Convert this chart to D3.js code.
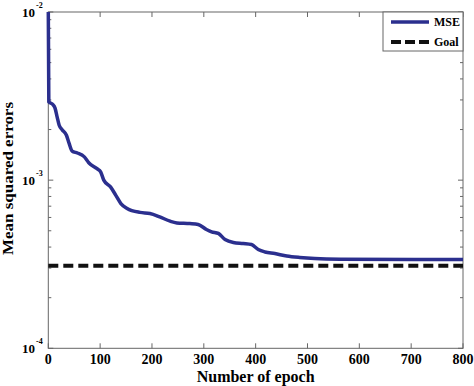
<!DOCTYPE html>
<html><head><meta charset="utf-8">
<script src="https://cdn.jsdelivr.net/npm/d3@7/dist/d3.min.js"></script>
<style>body{margin:0;background:#fff}svg{display:block}</style>
</head><body>
<svg id="c" width="474" height="386"></svg>
<script>
const epochs = [0,1,8,13,17,21,27,35,40,46,56,69,78,94,101,107,120,130,140,152,177,196,215,235,248,273,289,305,315,328,341,357,376,392,405,418,437,460,485,514,563,800];
const mse = [1.0e-2,2.92e-3,2.83e-3,2.68e-3,2.38e-3,2.12e-3,1.99e-3,1.85e-3,1.66e-3,1.49e-3,1.45e-3,1.38e-3,1.27e-3,1.17e-3,1.12e-3,1.0e-3,9.12e-4,8.15e-4,7.26e-4,6.79e-4,6.43e-4,6.34e-4,6.05e-4,5.70e-4,5.57e-4,5.52e-4,5.45e-4,5.09e-4,4.93e-4,4.82e-4,4.44e-4,4.26e-4,4.20e-4,4.14e-4,3.87e-4,3.74e-4,3.66e-4,3.54e-4,3.47e-4,3.42e-4,3.39e-4,3.37e-4];
const goal = 3.1e-4;
const xTicks = [0,100,200,300,400,500,600,700,800];
const yMajor = [1e-4,1e-3,1e-2];
const yExp = ["-4","-3","-2"];
const seriesNames = ["MSE","Goal"];

const svg = d3.select("#c");
const L=48.3, R=463, T=12, B=348.3;
const x = d3.scaleLinear().domain([0,800]).range([L,R]);
const y = d3.scaleLog().domain([1e-4,1e-2]).range([B,T]);
const font = "'Liberation Serif', serif";
const axisCol = "#666";

const minor = [];
[1e-4,1e-3].forEach(d=>{for(let k=2;k<=9;k++) minor.push(d*k);});

const g = svg.append("g");
g.append("rect").attr("x",L).attr("y",T).attr("width",R-L).attr("height",B-T)
 .attr("fill","none").attr("stroke",axisCol).attr("stroke-width",1);

xTicks.forEach(t=>{
  g.append("line").attr("x1",x(t)).attr("x2",x(t)).attr("y1",B).attr("y2",B-5).attr("stroke",axisCol);
  g.append("line").attr("x1",x(t)).attr("x2",x(t)).attr("y1",T).attr("y2",T+5).attr("stroke",axisCol);
  g.append("text").attr("x",x(t)).attr("y",364).attr("text-anchor","middle")
   .attr("font-family",font).attr("font-weight","bold").attr("font-size",14).text(t);
});
yMajor.forEach((t,i)=>{
  g.append("line").attr("x1",L).attr("x2",L+5).attr("y1",y(t)).attr("y2",y(t)).attr("stroke",axisCol);
  g.append("line").attr("x1",R).attr("x2",R-5).attr("y1",y(t)).attr("y2",y(t)).attr("stroke",axisCol);
  g.append("text").attr("x",35).attr("y",y(t)+4.5).attr("text-anchor","end")
   .attr("font-family",font).attr("font-weight","bold").attr("font-size",13).text("10");
  g.append("text").attr("x",36).attr("y",y(t)-4).attr("text-anchor","start")
   .attr("font-family",font).attr("font-weight","bold").attr("font-size",8).text(yExp[i]);
});
minor.forEach(t=>{
  g.append("line").attr("x1",L).attr("x2",L+3).attr("y1",y(t)).attr("y2",y(t)).attr("stroke",axisCol);
  g.append("line").attr("x1",R).attr("x2",R-3).attr("y1",y(t)).attr("y2",y(t)).attr("stroke",axisCol);
});

g.append("line").attr("x1",L).attr("x2",R).attr("y1",y(goal)).attr("y2",y(goal))
 .attr("stroke","#111").attr("stroke-width",4).attr("stroke-dasharray","10,5");

const line = d3.line().x((d,i)=>x(epochs[i])).y(d=>y(d)).curve(d3.curveMonotoneX);
g.append("path").datum(mse).attr("d",line).attr("fill","none")
 .attr("stroke","#2b2f8e").attr("stroke-width",3.5).attr("stroke-linejoin","round");

const lg = g.append("g");
lg.append("rect").attr("x",383).attr("y",T).attr("width",R-383).attr("height",39)
 .attr("fill","#fff").attr("stroke",axisCol);
lg.append("line").attr("x1",391).attr("x2",429).attr("y1",22).attr("y2",22)
 .attr("stroke","#2b2f8e").attr("stroke-width",3.5);
lg.append("line").attr("x1",391).attr("x2",429).attr("y1",42).attr("y2",42)
 .attr("stroke","#111").attr("stroke-width",4).attr("stroke-dasharray","10,4");
seriesNames.forEach((n,i)=>{
  lg.append("text").attr("x",434).attr("y",26+i*20).attr("font-family",font)
   .attr("font-weight","bold").attr("font-size",12).text(n);
});

svg.append("text").attr("x",(L+R)/2).attr("y",382).attr("text-anchor","middle")
 .attr("font-family",font).attr("font-weight","bold").attr("font-size",16).text("Number of epoch");
svg.append("text").attr("transform",`translate(13,178.5) rotate(-90)`).attr("text-anchor","middle")
 .attr("font-family",font).attr("font-weight","bold").attr("font-size",15)
 .attr("textLength",153).attr("lengthAdjust","spacingAndGlyphs").text("Mean squared errors");
</script>
</body></html>
